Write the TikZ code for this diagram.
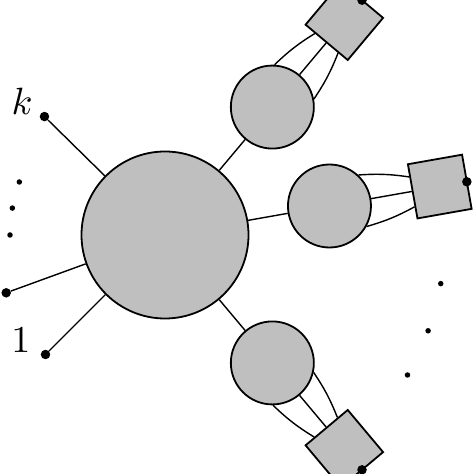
\documentclass[tikz,border=0pt]{standalone}
\usetikzlibrary{calc}
\begin{document}
\begin{tikzpicture}[x=1pt,y=1pt,
  bigc/.style={circle,draw,line width=1.8pt,fill=gray!50,minimum size=167pt,inner sep=0pt},
  smallc/.style={circle,draw,line width=1.8pt,fill=gray!50,minimum size=83pt,inner sep=0pt},
  sqbox/.style={rectangle,draw,line width=1.8pt,fill=gray!50,minimum size=55pt,inner sep=0pt},
  bdot/.style={circle,fill=black,minimum size=9.5pt,inner sep=0pt},
  sdot/.style={circle,fill=black,minimum size=5.5pt,inner sep=0pt},
  conn/.style={line width=1.4pt},
  lab/.style={scale=3.8,transform shape,inner sep=0pt}]
\useasboundingbox (0,0) rectangle (474,474);
\coordinate (O) at (165,239);
% branch circles
\node[bigc] (B) at (O) {};
\foreach \n/\a in {1/50,2/10,3/-50}{
  \node[smallc] (c\n) at ($(O)+(\a:167)$) {};
  \node[sqbox,rotate=\a] (s\n) at ($(c\n)+(\a:112)$) {};
  \node[bdot] (e\n) at ($(c\n)+(\a:139.5)$) {};
  \draw[conn] (B) -- (c\n);
  \coordinate (u\n) at ($(s\n.west)!0.52!(s\n.north west)$);
  \coordinate (w\n) at ($(s\n.west)!0.55!(s\n.south west)$);
  \draw[conn] (c\n.{\a+37}) to[bend left=6] (u\n);
  \draw[conn] (c\n.{\a}) -- (s\n.west);
  \draw[conn] (c\n.{\a-39}) to[bend right=6] (w\n);
}
% legs
\node[bdot] (lk) at ($(O)+(135.5:169)$) {};
\node[bdot] (lm) at ($(O)+(200:169)$) {};
\node[bdot] (l1) at ($(O)+(225:169)$) {};
\draw[conn] (B) -- (lk);
\draw[conn] (B) -- (lm);
\draw[conn] (B) -- (l1);
\node[lab] (tk) at (22,373) {$k$};
\node[lab] (t1) at (21,134) {$1$};
% ellipsis dots
\foreach \a [count=\i] in {160,170,180}{
  \node[sdot] (ld\i) at ($(O)+(\a:155)$) {};
}
\foreach \a [count=\i] in {-10,-20,-30}{
  \node[sdot] (rd\i) at ($(O)+(\a:280)$) {};
}
\end{tikzpicture}
\end{document}
